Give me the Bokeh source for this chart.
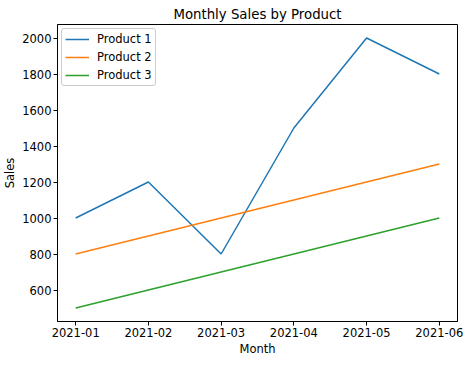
from bokeh.plotting import figure
from bokeh.models import Range1d, FixedTicker, Legend, LegendItem
from bokeh.embed import file_html
from bokeh.resources import INLINE

months = ["2021-01", "2021-02", "2021-03", "2021-04", "2021-05", "2021-06"]
product1 = [1000, 1200, 800, 1500, 2000, 1800]
product2 = [800, 900, 1000, 1100, 1200, 1300]
product3 = [500, 600, 700, 800, 900, 1000]
y_ticks = [600, 800, 1000, 1200, 1400, 1600, 1800, 2000]

xs = list(range(len(months)))
FONT = "DejaVu Sans"
FS = "11.5px"

p = figure(frame_width=400, frame_height=297, output_backend="svg", toolbar_location=None,
           x_range=Range1d(-0.25, 5.25), y_range=Range1d(425, 2075),
           min_border_left=0, min_border_right=8, min_border_top=24, min_border_bottom=0)

p.title.text = "Monthly Sales by Product"
p.title.align = "center"
p.title.text_font = FONT
p.title.text_font_size = "13.3px"
p.title.text_font_style = "normal"
p.title.text_color = "#000000"
p.title.standoff = 6
p.title.offset = 0

r1 = p.line(xs, product1, line_color="#1f77b4", line_width=1.5)
r2 = p.line(xs, product2, line_color="#ff7f0e", line_width=1.5)
r3 = p.line(xs, product3, line_color="#2ca02c", line_width=1.5)

p.xaxis.ticker = FixedTicker(ticks=xs)
p.xaxis.major_label_overrides = {i: m for i, m in enumerate(months)}
p.yaxis.ticker = FixedTicker(ticks=y_ticks)
p.xaxis.axis_label = "Month"
p.yaxis.axis_label = "Sales"

for ax in (p.xaxis, p.yaxis):
    ax.axis_label_text_font = FONT
    ax.axis_label_text_font_size = FS
    ax.axis_label_text_font_style = "normal"
    ax.axis_label_text_color = "#000000"
    ax.major_label_text_font = FONT
    ax.major_label_text_font_size = FS
    ax.major_label_text_color = "#000000"
    ax.axis_line_color = "#000000"
    ax.major_tick_line_color = "#000000"
    ax.major_tick_in = 0
    ax.major_tick_out = 4
    ax.minor_tick_line_color = None
    ax.axis_label_standoff = 2
    ax.major_label_standoff = 2

p.xgrid.grid_line_color = None
p.ygrid.grid_line_color = None
p.outline_line_color = "#000000"
p.outline_line_alpha = 1.0
p.background_fill_color = "white"
p.border_fill_color = "white"

legend = Legend(items=[LegendItem(label="Product 1", renderers=[r1]),
                       LegendItem(label="Product 2", renderers=[r2]),
                       LegendItem(label="Product 3", renderers=[r3])],
                location="top_left")
legend.label_text_font = FONT
legend.label_text_font_size = FS
legend.label_text_color = "#000000"
legend.glyph_width = 24
legend.glyph_height = 14
legend.label_height = 14
legend.spacing = 4
legend.padding = 3
legend.margin = 4
legend.label_standoff = 8
legend.border_line_color = "#cccccc"
legend.border_line_alpha = 1.0
legend.background_fill_alpha = 0.8
legend.border_radius = 3
p.add_layout(legend)

open("out.html", "w").write(file_html(p, INLINE))
